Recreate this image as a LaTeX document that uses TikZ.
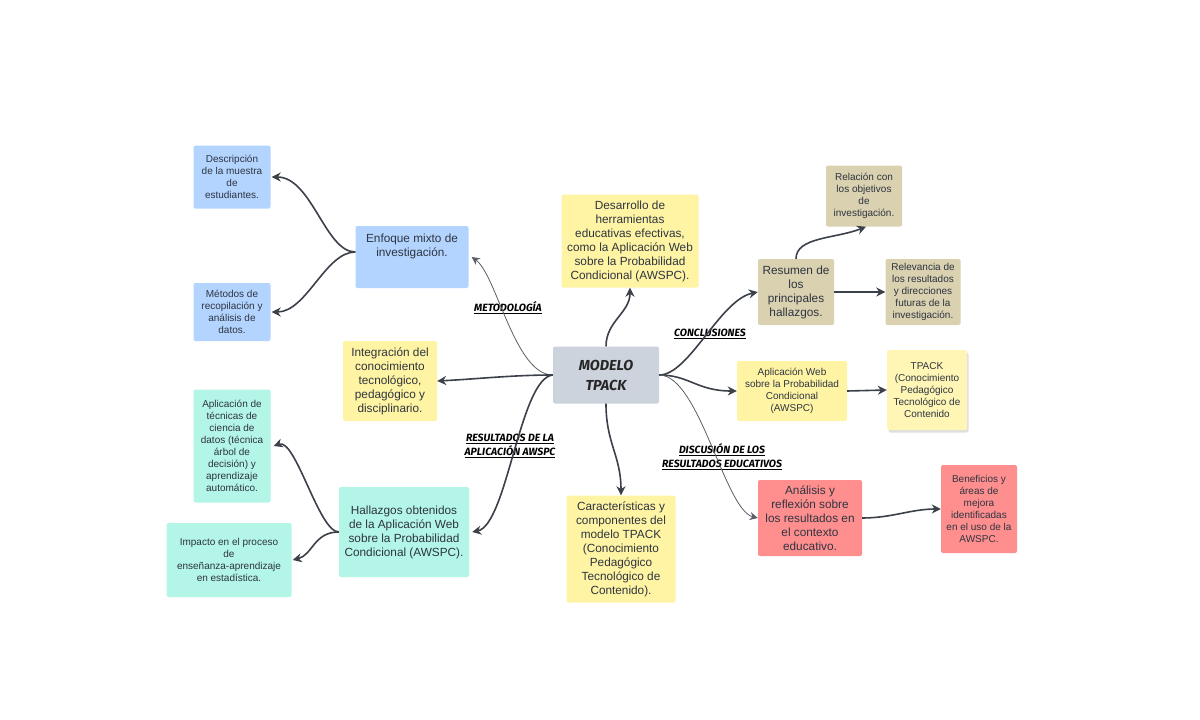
\documentclass[tikz,border=0pt]{standalone}
\usepackage{fontspec}
\setmainfont{Liberation Sans}
\newfontfamily\tagfont{Fira Sans}
\usetikzlibrary{arrows.meta,shadows}

\definecolor{azul}{HTML}{B3D4FF}
\definecolor{amarillo}{HTML}{FFF4A3}
\definecolor{menta}{HTML}{B3F5E6}
\definecolor{arena}{HTML}{D9D1B0}
\definecolor{rojo}{HTML}{FF8F8F}
\definecolor{pizarra}{HTML}{CDD3DC}
\definecolor{tinta}{HTML}{2E3440}
\definecolor{linea}{HTML}{3B4049}
\definecolor{gris}{HTML}{5A5F68}

\tikzset{
  caja/.style={rounded corners=2pt, align=center, inner sep=0pt, text=tinta},
  chica/.style={caja, font=\fontsize{10}{12}\selectfont},
  grande/.style={caja, font=\fontsize{11.8}{14}\selectfont},
  flecha/.style={-{Stealth[length=9pt,width=9pt]}, line width=1.6pt, draw=linea},
  fina/.style={-{Stealth[length=8pt,width=8pt]}, line width=0.8pt, draw=gris},
  etiqueta/.style={font=\tagfont\bfseries\itshape\fontsize{10.5}{14}\selectfont, align=center, text=black}
}

\begin{document}
\begin{tikzpicture}[x=1pt,y=-1pt]
\useasboundingbox[fill=white] (0,0) rectangle (1200,720);

% centro
\node[caja, fill=pizarra, minimum width=106pt, minimum height=57pt,
  font=\tagfont\bfseries\itshape\fontsize{14.5}{20}\selectfont, text=black!85] (tpack) at (606,375) {MODELO\\TPACK};

% metodologia
\node[grande, fill=azul, minimum width=113pt, minimum height=62pt] (enfoque) at (412,257) {Enfoque mixto de\\investigación.\\[10pt]};
\node[chica, fill=azul, minimum width=77pt, minimum height=63pt] (desc) at (232,177) {Descripción\\de la muestra\\de\\estudiantes.};
\node[chica, fill=azul, minimum width=77pt, minimum height=58pt] (metodos) at (232,312) {Métodos de\\recopilación y\\análisis de\\datos.};
\node[grande, fill=amarillo, minimum width=94pt, minimum height=80pt] (integra) at (390,381) {Integración del\\conocimiento\\tecnológico,\\pedagógico y\\disciplinario.};

% resultados de la aplicacion
\node[grande, fill=menta, minimum width=130pt, minimum height=90pt] (hallazgos) at (404,532) {Hallazgos obtenidos\\de la Aplicación Web\\sobre la Probabilidad\\Condicional (AWSPC).};
\node[chica, fill=menta, minimum width=77pt, minimum height=113pt] (tecnicas) at (232,446) {Aplicación de\\técnicas de\\ciencia de\\datos (técnica\\árbol de\\decisión) y\\aprendizaje\\automático.};
\node[chica, fill=menta, minimum width=125pt, minimum height=74pt] (impacto) at (229,560) {Impacto en el proceso\\de\\enseñanza-aprendizaje\\en estadística.};

% arriba y abajo
\node[grande, fill=amarillo, minimum width=137pt, minimum height=93pt] (desarrollo) at (630,241) {Desarrollo de\\herramientas\\educativas efectivas,\\como la Aplicación Web\\sobre la Probabilidad\\Condicional (AWSPC).};
\node[grande, fill=amarillo, minimum width=109pt, minimum height=107pt] (caract) at (621,549) {Características y\\componentes del\\modelo TPACK\\(Conocimiento\\Pedagógico\\Tecnológico de\\Contenido).};

% conclusiones
\node[grande, fill=arena, minimum width=76pt, minimum height=66pt] (resumen) at (796,292) {Resumen de\\los\\principales\\hallazgos.};
\node[chica, fill=arena, minimum width=76pt, minimum height=61pt] (relacion) at (864,196) {Relación con\\los objetivos\\de\\investigación.};
\node[chica, fill=arena, minimum width=75pt, minimum height=66pt] (relevancia) at (923,292) {Relevancia de\\los resultados\\y direcciones\\futuras de la\\investigación.};
\node[chica, fill=amarillo, minimum width=110pt, minimum height=60pt] (aweb) at (792,391) {Aplicación Web\\sobre la Probabilidad\\Condicional\\(AWSPC)};
\node[chica, fill=amarillo!80!white, minimum width=80pt, minimum height=80pt,
  drop shadow={opacity=0.25, shadow xshift=1.5pt, shadow yshift=-2.5pt}] (modelo) at (927,390) {TPACK\\(Conocimiento\\Pedagógico\\Tecnológico de\\Contenido};

% discusion
\node[grande, fill=rojo, minimum width=104pt, minimum height=76pt] (analisis) at (810,518) {Análisis y\\reflexión sobre\\los resultados en\\el contexto\\educativo.};
\node[chica, fill=rojo, minimum width=76pt, minimum height=88pt] (benef) at (979,509) {Beneficios y\\áreas de\\mejora\\identificadas\\en el uso de la\\AWSPC.};

% etiquetas de rama
\node[etiqueta] (lmet) at (508,308) {\underline{METODOLOGÍA}};
\node[etiqueta] (lcon) at (710,334) {\underline{CONCLUSIONES}};
\node[etiqueta] (lres) at (510,446) {\underline{RESULTADOS DE LA}\\\underline{APLICACIÓN AWSPC}};
\node[etiqueta] (ldis) at (722,457) {\underline{DISCUSIÓN DE LOS}\\\underline{RESULTADOS EDUCATIVOS}};

% ramas del centro
\draw[fina] (tpack.west) .. controls +(-38,0) and +(25,18) .. ([xshift=3pt]enfoque.east);
\draw[flecha] (tpack.west) .. controls +(-40,0) and +(40,-2) .. (integra.east);
\draw[flecha] (tpack.west) .. controls +(-33,3) and +(35,-7) .. ([xshift=3pt]hallazgos.east);
\draw[flecha] (tpack.north) .. controls +(0,-25) and +(0,25) .. (desarrollo.south);
\draw[flecha] (tpack.south) .. controls +(0,40) and +(0,-40) .. (caract.north);
\draw[flecha] (tpack.east) .. controls +(30,0) and +(-38,8) .. (resumen.west);
\draw[flecha] (tpack.east) .. controls +(30,0) and +(-40,0) .. (aweb.west);
\draw[fina] (tpack.east) .. controls +(40,0) and +(-33,-8) .. (analisis.west);

% ramas secundarias
\draw[flecha] ([yshift=5pt]enfoque.west) .. controls +(-30,0) and +(40,0) .. ([xshift=1pt]desc.east);
\draw[flecha] ([yshift=5pt]enfoque.west) .. controls +(-30,0) and +(35,0) .. ([xshift=1pt]metodos.east);
\draw[flecha] (hallazgos.west) .. controls +(-20,0) and +(22,-8) .. ([xshift=3pt]tecnicas.east);
\draw[flecha] (hallazgos.west) .. controls +(-25,0) and +(20,-5) .. ([xshift=1pt]impacto.east);
\draw[flecha] (resumen.north) .. controls +(0,-22) and +(-30,12) .. ([xshift=2pt]relacion.south);
\draw[flecha] (resumen.east) -- (relevancia.west);
\draw[flecha] (aweb.east) -- (modelo.west);
\draw[flecha] (analisis.east) .. controls +(30,0) and +(-30,0) .. (benef.west);
\end{tikzpicture}
\end{document}
